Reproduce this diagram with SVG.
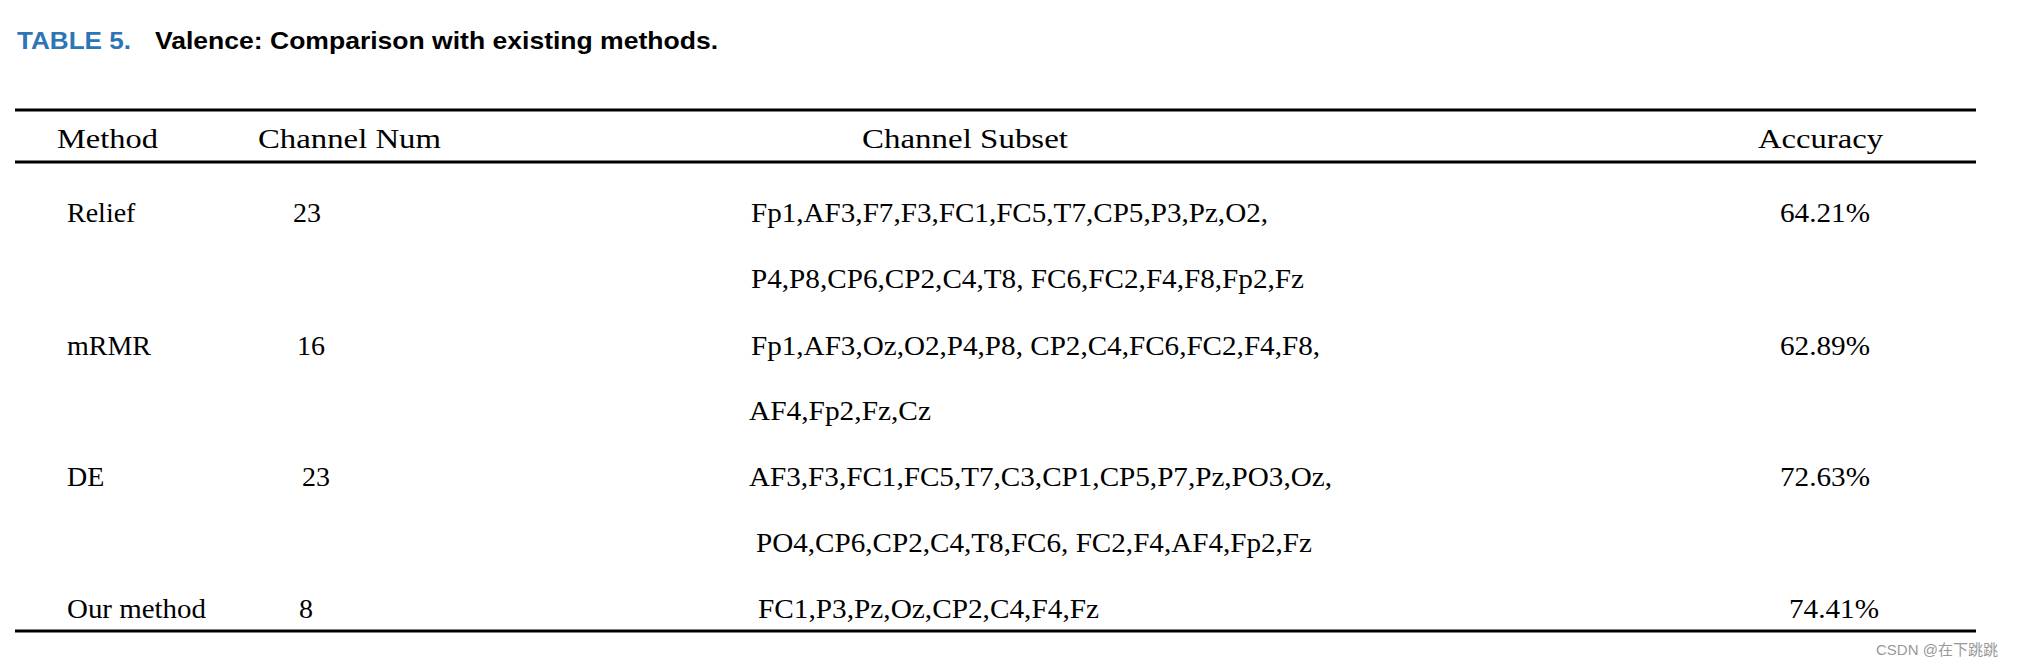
<svg xmlns="http://www.w3.org/2000/svg" width="2022" height="672" viewBox="0 0 2022 672">
<style>
.t{font-family:"Liberation Serif",serif;font-size:28px;fill:#000}
.h{font-family:"Liberation Sans",sans-serif;font-weight:bold;font-size:24px}
</style>
<rect width="2022" height="672" fill="#fff"/>
<text class="h" x="17" y="49" fill="#2e75b6" textLength="114" lengthAdjust="spacingAndGlyphs">TABLE 5.</text>
<text class="h" x="155" y="49" fill="#000" textLength="563" lengthAdjust="spacingAndGlyphs">Valence: Comparison with existing methods.</text>
<g id="lines" stroke="#000" stroke-width="3">
<line x1="15" y1="110" x2="1976" y2="110"/>
<line x1="15" y1="162" x2="1976" y2="162"/>
<line x1="15" y1="631" x2="1976" y2="631"/>
</g>
<g id="header">
<text class="t" x="57" y="148" textLength="101" lengthAdjust="spacingAndGlyphs">Method</text>
<text class="t" x="258" y="148" textLength="183" lengthAdjust="spacingAndGlyphs">Channel Num</text>
<text class="t" x="862" y="148" textLength="206" lengthAdjust="spacingAndGlyphs">Channel Subset</text>
<text class="t" x="1758" y="148" textLength="125" lengthAdjust="spacingAndGlyphs">Accuracy</text>
</g>
<g id="row-relief">
<text class="t" x="67" y="222">Relief</text>
<text class="t" x="293" y="222">23</text>
<text class="t" x="751" y="222" textLength="517" lengthAdjust="spacingAndGlyphs">Fp1,AF3,F7,F3,FC1,FC5,T7,CP5,P3,Pz,O2,</text>
<text class="t" x="751" y="288" textLength="553" lengthAdjust="spacingAndGlyphs">P4,P8,CP6,CP2,C4,T8, FC6,FC2,F4,F8,Fp2,Fz</text>
<text class="t" x="1780" y="222" textLength="90" lengthAdjust="spacingAndGlyphs">64.21%</text>
</g>
<g id="row-mrmr">
<text class="t" x="67" y="355">mRMR</text>
<text class="t" x="297" y="355">16</text>
<text class="t" x="751" y="355" textLength="569" lengthAdjust="spacingAndGlyphs">Fp1,AF3,Oz,O2,P4,P8, CP2,C4,FC6,FC2,F4,F8,</text>
<text class="t" x="749" y="420" textLength="182" lengthAdjust="spacingAndGlyphs">AF4,Fp2,Fz,Cz</text>
<text class="t" x="1780" y="355" textLength="90" lengthAdjust="spacingAndGlyphs">62.89%</text>
</g>
<g id="row-de">
<text class="t" x="67" y="486">DE</text>
<text class="t" x="302" y="486">23</text>
<text class="t" x="749" y="486" textLength="583" lengthAdjust="spacingAndGlyphs">AF3,F3,FC1,FC5,T7,C3,CP1,CP5,P7,Pz,PO3,Oz,</text>
<text class="t" x="756" y="552" textLength="556" lengthAdjust="spacingAndGlyphs">PO4,CP6,CP2,C4,T8,FC6, FC2,F4,AF4,Fp2,Fz</text>
<text class="t" x="1780" y="486" textLength="90" lengthAdjust="spacingAndGlyphs">72.63%</text>
</g>
<g id="row-ours">
<text class="t" x="67" y="618" textLength="139" lengthAdjust="spacingAndGlyphs">Our method</text>
<text class="t" x="299" y="618">8</text>
<text class="t" x="758" y="618" textLength="341" lengthAdjust="spacingAndGlyphs">FC1,P3,Pz,Oz,CP2,C4,F4,Fz</text>
<text class="t" x="1789" y="618" textLength="90" lengthAdjust="spacingAndGlyphs">74.41%</text>
</g>
<text x="1876" y="655" font-family="Liberation Sans,'Noto Sans CJK SC',sans-serif" font-size="15" fill="#999">CSDN @在下跳跳</text>
</svg>
